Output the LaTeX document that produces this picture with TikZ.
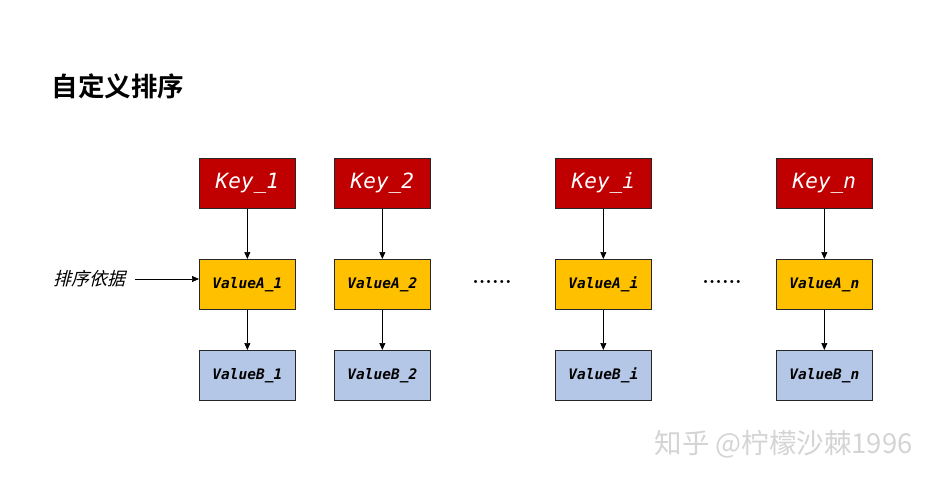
\documentclass[tikz,border=0pt]{standalone}
\usepackage{fontspec}
\usetikzlibrary{arrows.meta}
\setmonofont{DejaVu Sans Mono}
\newfontfamily\cjk{Noto Sans CJK SC}
\newfontfamily\cjkbold{Noto Sans CJK SC Bold}
\newfontfamily\cjkslant[FakeSlant=0.25]{Noto Sans CJK SC}
\definecolor{keyred}{HTML}{C00000}
\definecolor{valA}{HTML}{FFC000}
\definecolor{valB}{HTML}{B4C7E7}
\definecolor{wm}{HTML}{D4D4D4}
\tikzset{
  base/.style={draw=black!85, line width=0.7pt, minimum width=96pt, minimum height=50pt, inner sep=0pt, anchor=north west},
  keybox/.style={base, fill=keyred, text=white, font=\fontsize{21}{24}\selectfont\ttfamily\itshape},
  abox/.style={base, fill=valA, text=black, font=\fontsize{14.5}{16}\selectfont\ttfamily\bfseries\itshape},
  bbox/.style={base, fill=valB, text=black, font=\fontsize{14.5}{16}\selectfont\ttfamily\bfseries\itshape},
  conn/.style={-{Triangle[length=7pt,width=6pt]}, line width=0.7pt, black},
  dots/.style={font=\fontsize{21}{22}\selectfont\bfseries}
}
\begin{document}
\begin{tikzpicture}[x=1pt,y=-1pt]
\useasboundingbox (0,0) rectangle (938,483);
\node[anchor=west, font=\fontsize{26.5}{30}\selectfont\cjkbold] (title) at (48,86) {自定义排序};
\foreach \x/\s [count=\i] in {199/1, 334/2, 555/i, 776/n} {
  \node[keybox] (k\i) at (\x,158) {Key\_\s};
  \node[abox] (a\i) at (\x,259) {ValueA\_\s};
  \node[bbox] (b\i) at (\x,350) {ValueB\_\s};
  \draw[conn] (k\i) -- (a\i);
  \draw[conn] (a\i) -- (b\i);
}
\node[anchor=west, font=\fontsize{18}{20}\selectfont\cjkslant] (lbl) at (50,279) {排序依据};
\coordinate (src) at (135,279);
\draw[conn] (src) -- (src -| a1.west);
\node[dots] (d1) at (492,282) {......};
\node[dots] (d2) at (722,282) {......};
\node[anchor=west, text=wm, font=\fontsize{27.5}{30}\selectfont\cjk] (wmk) at (651,444) {知乎 @柠檬沙棘1996};
\end{tikzpicture}
\end{document}
